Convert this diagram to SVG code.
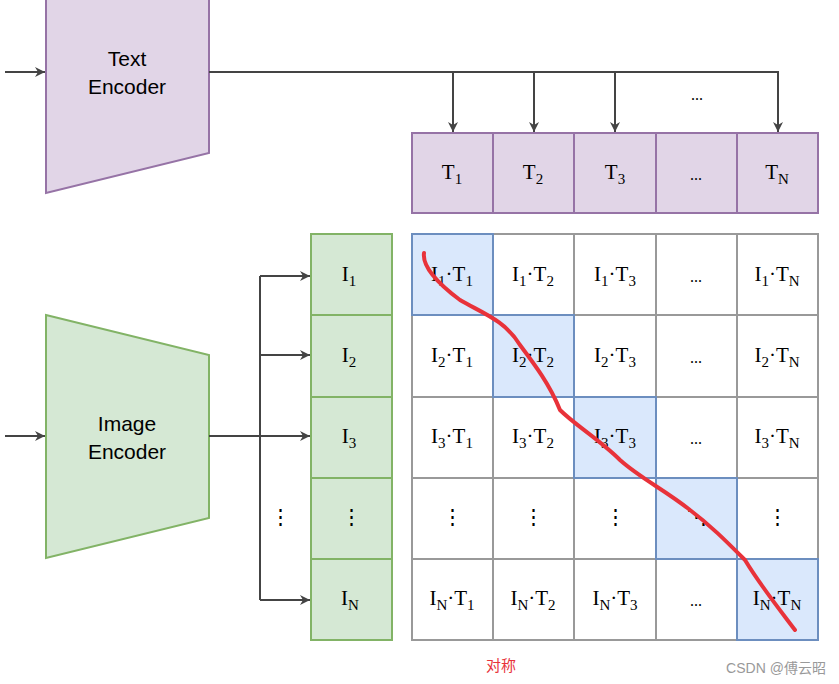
<svg xmlns="http://www.w3.org/2000/svg" width="839" height="684" viewBox="0 0 839 684">
<defs>
<marker id="ah" viewBox="0 0 10 10" refX="10" refY="5" markerWidth="10" markerHeight="10" markerUnits="userSpaceOnUse" orient="auto"><path d="M0,0 L10,5 L0,10 L3,5 Z" fill="#444"/></marker>
</defs>
<style>
.ln{stroke:#444;stroke-width:2;fill:none}
.cell{fill:#fff;stroke:#999;stroke-width:2}
.diag{fill:#dae8fc;stroke:#6c8ebf;stroke-width:2}
.tc{fill:#e1d5e7;stroke:#9673a6;stroke-width:2}
.ic{fill:#d5e8d4;stroke:#82b366;stroke-width:2}
.m{font-family:"Liberation Serif",serif;font-size:21px;fill:#000;text-anchor:middle}
.s{font-size:15px}
.sf{font-family:"Liberation Sans",Arial,sans-serif;font-size:21px;text-anchor:middle;fill:#000}
</style>
<rect width="839" height="684" fill="#fff"/>
<g id="text-encoder"><polygon class="tc" points="46,-49 209,-9 209,153 46,193"/><text class="sf" x="127" y="66">Text</text><text class="sf" x="127" y="94">Encoder</text></g>
<g id="image-encoder"><polygon class="ic" points="46,315 209,355 209,518 46,558"/><text class="sf" x="127" y="431">Image</text><text class="sf" x="127" y="459">Encoder</text></g>
<g id="connectors">
<path class="ln" d="M5,72 H45" marker-end="url(#ah)"/>
<path class="ln" d="M5,436 H45" marker-end="url(#ah)"/>
<path class="ln" d="M209,72 H778 V132"/>
<path class="ln" d="M453,72 V132" marker-end="url(#ah)"/>
<path class="ln" d="M534,72 V132" marker-end="url(#ah)"/>
<path class="ln" d="M615,72 V132" marker-end="url(#ah)"/>
<path class="ln" d="M778,120 V132" marker-end="url(#ah)"/>
<path class="ln" d="M209,436 H260"/>
<path class="ln" d="M260,276 V600"/>
<path class="ln" d="M260,276 H310" marker-end="url(#ah)"/>
<path class="ln" d="M260,355 H310" marker-end="url(#ah)"/>
<path class="ln" d="M260,436 H310" marker-end="url(#ah)"/>
<path class="ln" d="M260,600 H310" marker-end="url(#ah)"/>
</g>
<text class="m" x="697" y="100" style="font-size:16px">...</text>
<text class="m" x="280" y="524">⋮</text>
<g id="t-row">
<rect class="tc" x="412" y="133" width="81" height="80"/><rect class="tc" x="493" y="133" width="81" height="80"/><rect class="tc" x="574" y="133" width="82" height="80"/><rect class="tc" x="656" y="133" width="81" height="80"/><rect class="tc" x="737" y="133" width="81" height="80"/>
<text class="m" x="452" y="179">T<tspan class="s" dy="5">1</tspan></text>
<text class="m" x="533" y="179">T<tspan class="s" dy="5">2</tspan></text>
<text class="m" x="615" y="179">T<tspan class="s" dy="5">3</tspan></text>
<text class="m" x="696" y="180" style="font-size:16px">...</text>
<text class="m" x="777" y="179">T<tspan class="s" dy="5">N</tspan></text>
</g>
<g id="i-col">
<rect class="ic" x="311" y="234" width="81" height="81"/><rect class="ic" x="311" y="315" width="81" height="82"/><rect class="ic" x="311" y="397" width="81" height="81"/><rect class="ic" x="311" y="478" width="81" height="81"/><rect class="ic" x="311" y="559" width="81" height="81"/>
<text class="m" x="349" y="281">I<tspan class="s" dy="5">1</tspan></text>
<text class="m" x="349" y="362">I<tspan class="s" dy="5">2</tspan></text>
<text class="m" x="349" y="443">I<tspan class="s" dy="5">3</tspan></text>
<text class="m" x="351" y="524">⋮</text>
<text class="m" x="350" y="605">I<tspan class="s" dy="5">N</tspan></text>
</g>
<g id="matrix">
<g>
<rect class="cell" x="412" y="234" width="406" height="406"/>
<path d="M493,234V640M574,234V640M656,234V640M737,234V640M412,315H818M412,397H818M412,478H818M412,559H818" stroke="#999" stroke-width="2"/>
<rect class="diag" x="412" y="234" width="81" height="81"/><rect class="diag" x="493" y="315" width="81" height="82"/><rect class="diag" x="574" y="397" width="82" height="81"/><rect class="diag" x="656" y="478" width="81" height="81"/><rect class="diag" x="737" y="559" width="81" height="81"/>
</g>
<g class="m">
<text class="m" x="452" y="281">I<tspan class="s" dy="5">1</tspan><tspan dy="-5">·T</tspan><tspan class="s" dy="5">1</tspan></text>
<text class="m" x="533" y="281">I<tspan class="s" dy="5">1</tspan><tspan dy="-5">·T</tspan><tspan class="s" dy="5">2</tspan></text>
<text class="m" x="615" y="281">I<tspan class="s" dy="5">1</tspan><tspan dy="-5">·T</tspan><tspan class="s" dy="5">3</tspan></text>
<text class="m" x="696" y="282" style="font-size:16px">...</text>
<text class="m" x="777" y="281">I<tspan class="s" dy="5">1</tspan><tspan dy="-5">·T</tspan><tspan class="s" dy="5">N</tspan></text>
<text class="m" x="452" y="362">I<tspan class="s" dy="5">2</tspan><tspan dy="-5">·T</tspan><tspan class="s" dy="5">1</tspan></text>
<text class="m" x="533" y="362">I<tspan class="s" dy="5">2</tspan><tspan dy="-5">·T</tspan><tspan class="s" dy="5">2</tspan></text>
<text class="m" x="615" y="362">I<tspan class="s" dy="5">2</tspan><tspan dy="-5">·T</tspan><tspan class="s" dy="5">3</tspan></text>
<text class="m" x="696" y="363" style="font-size:16px">...</text>
<text class="m" x="777" y="362">I<tspan class="s" dy="5">2</tspan><tspan dy="-5">·T</tspan><tspan class="s" dy="5">N</tspan></text>
<text class="m" x="452" y="443">I<tspan class="s" dy="5">3</tspan><tspan dy="-5">·T</tspan><tspan class="s" dy="5">1</tspan></text>
<text class="m" x="533" y="443">I<tspan class="s" dy="5">3</tspan><tspan dy="-5">·T</tspan><tspan class="s" dy="5">2</tspan></text>
<text class="m" x="615" y="443">I<tspan class="s" dy="5">3</tspan><tspan dy="-5">·T</tspan><tspan class="s" dy="5">3</tspan></text>
<text class="m" x="696" y="444" style="font-size:16px">...</text>
<text class="m" x="777" y="443">I<tspan class="s" dy="5">3</tspan><tspan dy="-5">·T</tspan><tspan class="s" dy="5">N</tspan></text>
<text class="m" x="452" y="524">⋮</text><text class="m" x="533" y="524">⋮</text><text class="m" x="615" y="524">⋮</text><text class="m" x="696" y="524">⋱</text><text class="m" x="777" y="524">⋮</text>
<text class="m" x="452" y="605">I<tspan class="s" dy="5">N</tspan><tspan dy="-5">·T</tspan><tspan class="s" dy="5">1</tspan></text>
<text class="m" x="533" y="605">I<tspan class="s" dy="5">N</tspan><tspan dy="-5">·T</tspan><tspan class="s" dy="5">2</tspan></text>
<text class="m" x="615" y="605">I<tspan class="s" dy="5">N</tspan><tspan dy="-5">·T</tspan><tspan class="s" dy="5">3</tspan></text>
<text class="m" x="696" y="606" style="font-size:16px">...</text>
<text class="m" x="777" y="605">I<tspan class="s" dy="5">N</tspan><tspan dy="-5">·T</tspan><tspan class="s" dy="5">N</tspan></text>
</g>
</g>
<path d="M424,253 C422,268 440,285 460,300 C480,312 505,320 520,345 C535,365 550,385 560,410 C575,425 600,440 620,460 C640,478 665,490 690,510 C710,525 725,540 745,560 C760,585 780,610 795,630" fill="none" stroke="#e8323a" stroke-width="4" stroke-linecap="round"/>
<text x="501" y="671" font-family="'Noto Sans CJK SC',sans-serif" font-size="15" fill="#e8323a" text-anchor="middle">对称</text>
<text x="776" y="673" font-family="'Liberation Sans','Noto Sans CJK SC',sans-serif" font-size="14" fill="#999" text-anchor="middle">CSDN @傅云昭</text>
</svg>
